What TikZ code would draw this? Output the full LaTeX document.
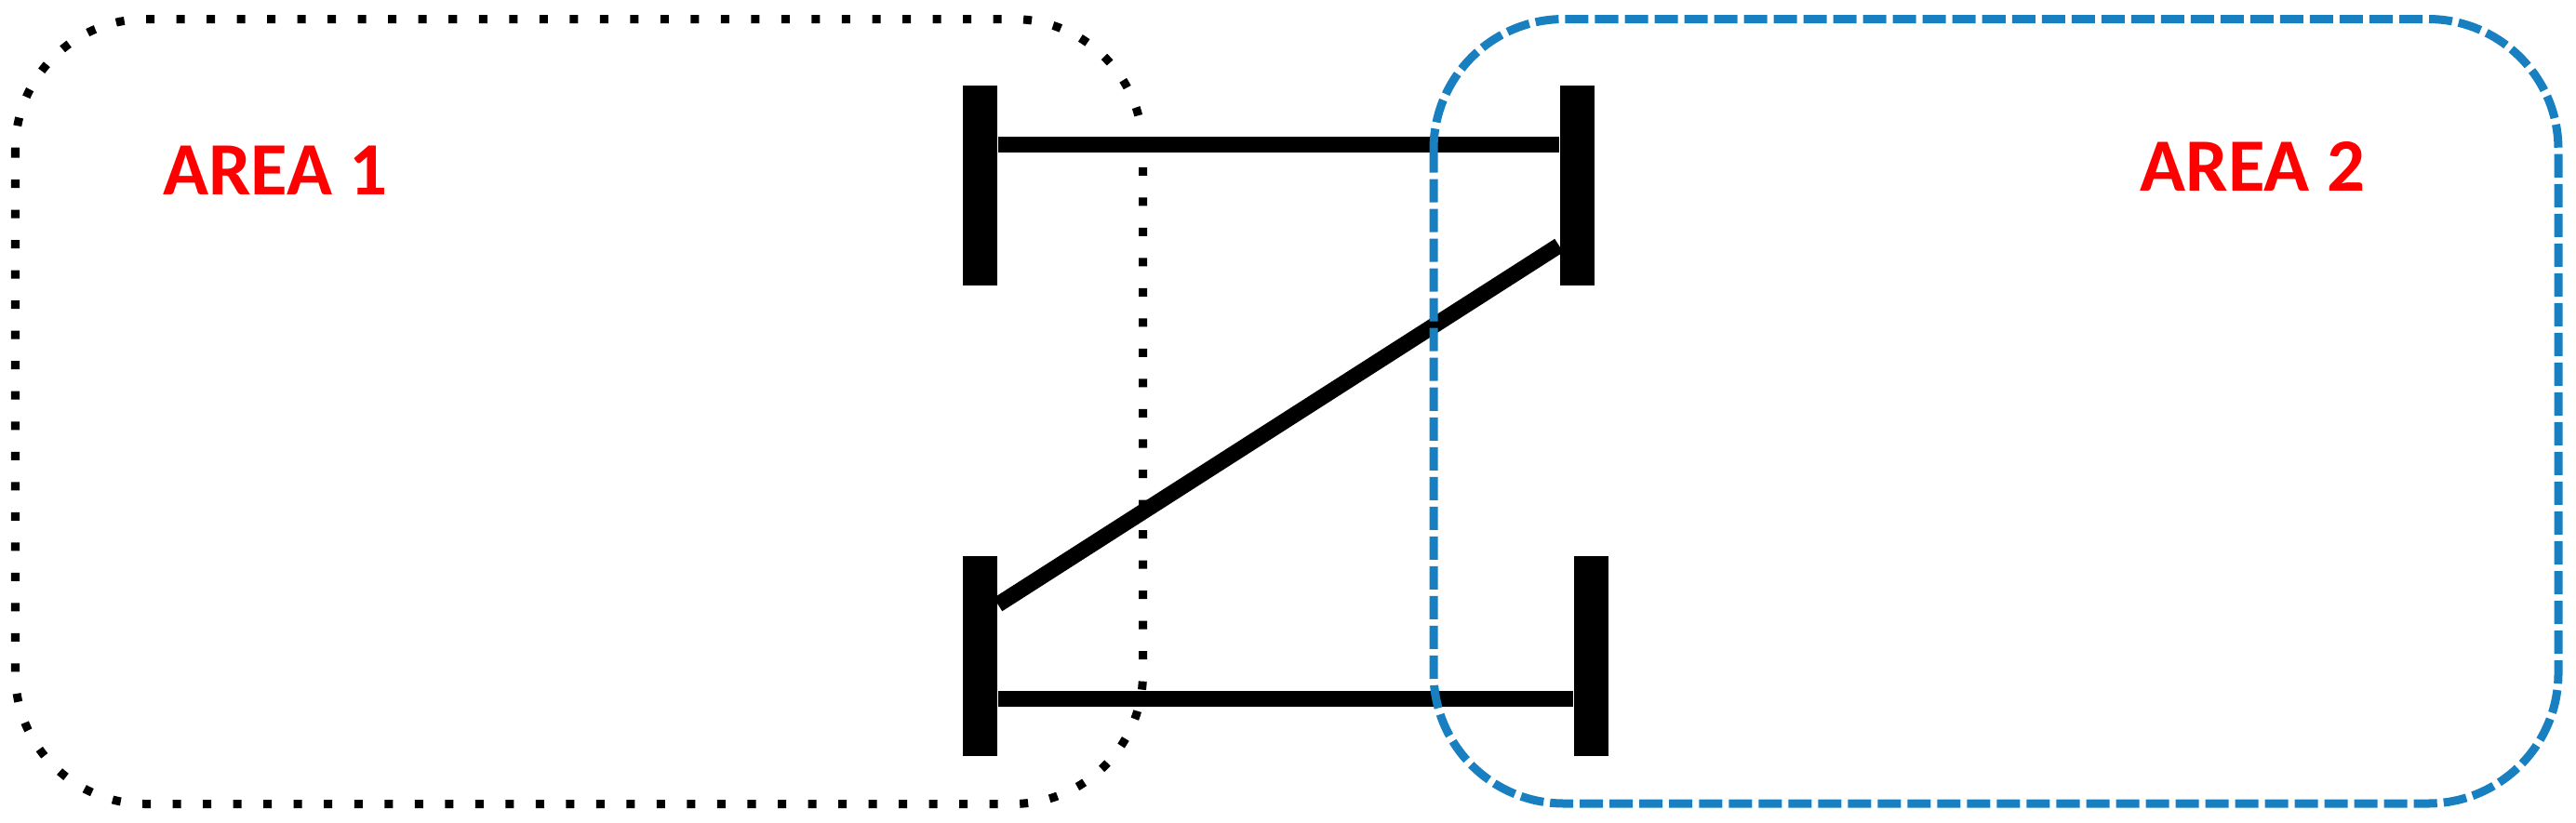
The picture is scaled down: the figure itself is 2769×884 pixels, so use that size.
\documentclass[tikz,border=0pt]{standalone}
\usepackage{fontspec}
\setmainfont{Carlito}
\usetikzlibrary{calc}
\definecolor{areablue}{RGB}{24,128,192}
\definecolor{areared}{RGB}{255,0,0}
\begin{document}
\begin{tikzpicture}[x=0.01cm,y=-0.01cm,
  bar/.style={rectangle,fill=black,draw=none,inner sep=0pt,minimum width=0.37cm,minimum height=2.15cm},
  link/.style={line width=0.17cm,black},
  area1/.style={line width=0.09cm,black,dash pattern=on 0.09cm off 0.235cm,rounded corners=1.4cm},
  area2/.style={line width=0.09cm,areablue,dash pattern=on 0.25cm off 0.07cm,rounded corners=1.4cm},
  label/.style={text=areared,font=\bfseries\fontsize{23}{28}\selectfont,inner sep=0pt}]
\useasboundingbox (0,0) rectangle (2769,884);
% area 1 (dotted)
\draw[area1] (16.5,20.5) rectangle (1228.5,864.5);
% bars
\node[bar] (tl) at (1053.5,199.5) {};
\node[bar] (tr) at (1695,199.5) {};
\node[bar] (bl) at (1053.5,705.5) {};
\node[bar] (br) at (1710,705.5) {};
% links
\draw[link] ($(tl.north east)!0.295!(tl.south east)$) -- ($(tr.north west)!0.295!(tr.south west)$);
\draw[link] ($(bl.north east)!0.714!(bl.south east)$) -- ($(br.north west)!0.714!(br.south west)$);
\draw[link] ($(bl.north east)!0.244!(bl.south east)$) -- ($(tr.north west)!0.798!(tr.south west)$);
% area 2 (dashed)
\draw[area2] (1541,20.5) rectangle (2750,864);
% labels
\node[label] (a1) at (296,183.5) {AREA 1};
\node[label] (a2) at (2421.5,179) {AREA 2};
\end{tikzpicture}
\end{document}
